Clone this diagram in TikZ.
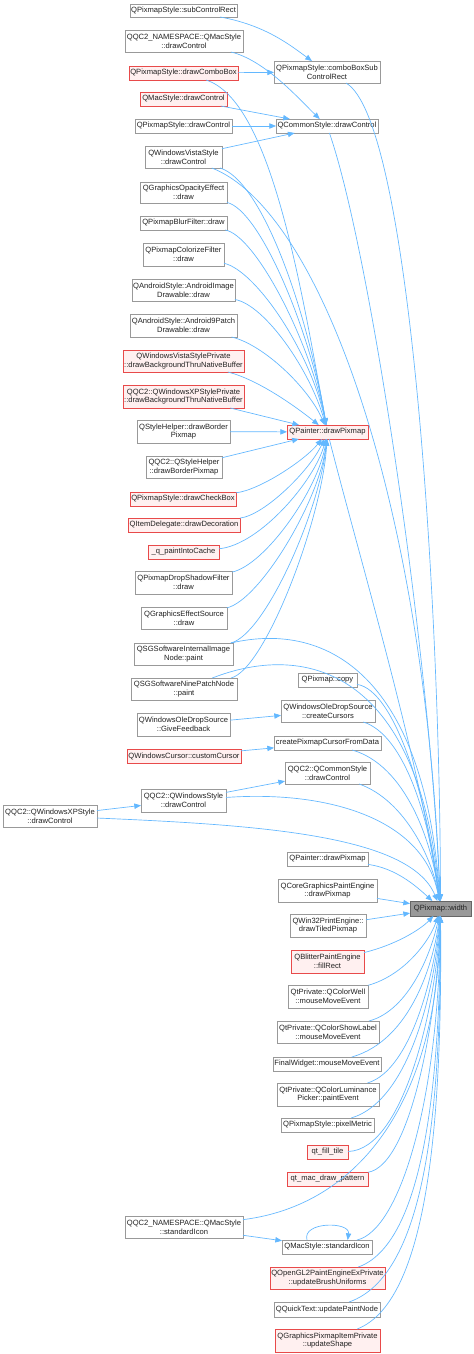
\documentclass[tikz,border=0pt]{standalone}
\usepackage{fontspec}
\setmainfont{Liberation Sans}
\usetikzlibrary{arrows.meta}
\definecolor{edgec}{HTML}{63B8FF}
\definecolor{boxc}{HTML}{999999}
\definecolor{redc}{HTML}{E84A4A}
\definecolor{redf}{HTML}{FFF0F0}
\definecolor{actf}{HTML}{999999}
\definecolor{actd}{HTML}{666666}
\definecolor{txt}{HTML}{222222}
\newcommand\gnd[7]{\node[#6,minimum width={(#4-#2)*0.75pt},minimum height={(#5-#3)*0.75pt}] (#1) at ({(#2+#4)/2},{(#3+#5)/2}) {#7};}
\begin{document}
\begin{tikzpicture}[x=0.75pt,y=-0.75pt,
  base/.style={rectangle,inner sep=0pt,outer sep=0pt,align=center,line width=0.75pt,
    font=\fontsize{5.7}{6.6}\selectfont,text=txt},
  plain/.style={base,draw=boxc,fill=white},
  redbox/.style={base,draw=redc,fill=redf},
  actbox/.style={base,draw=actd,fill=actf},
  e/.style={draw=edgec,line width=0.5pt,-{Triangle[length=5pt,width=4pt]}}]
\useasboundingbox (0,0) rectangle (474,1354);
\fill[white] (0,0) rectangle (474,1354);
\gnd{sub}{130}{4}{237}{17}{plain}{QPixmapStyle::subControlRect}
\gnd{qmsdc}{125}{30}{243}{52}{plain}{QQC2\_NAMESPACE::QMacStyle\\::drawControl}
\gnd{dcb}{129}{66}{238}{80}{redbox}{QPixmapStyle::drawComboBox}
\gnd{cbs}{274}{61}{380}{83}{plain}{QPixmapStyle::comboBoxSub\\ControlRect}
\gnd{mdc}{140}{92}{227}{106}{redbox}{QMacStyle::drawControl}
\gnd{pdc}{135}{119}{232}{133}{plain}{QPixmapStyle::drawControl}
\gnd{cdc}{276}{119}{378}{133}{plain}{QCommonStyle::drawControl}
\gnd{wvdc}{145}{146}{222}{168}{plain}{QWindowsVistaStyle\\::drawControl}
\gnd{goe}{140}{182}{227}{203}{plain}{QGraphicsOpacityEffect\\::draw}
\gnd{pbf}{140}{216}{227}{230}{plain}{QPixmapBlurFilter::draw}
\gnd{pcf}{143}{243}{224}{266}{plain}{QPixmapColorizeFilter\\::draw}
\gnd{aid}{132}{279}{235}{301}{plain}{QAndroidStyle::AndroidImage\\Drawable::draw}
\gnd{a9p}{130}{314}{237}{337}{plain}{QAndroidStyle::Android9Patch\\Drawable::draw}
\gnd{wvp}{123}{350}{244}{372}{redbox}{QWindowsVistaStylePrivate\\::drawBackgroundThruNativeBuffer}
\gnd{xpp}{123}{385}{244}{408}{redbox}{QQC2::QWindowsXPStylePrivate\\::drawBackgroundThruNativeBuffer}
\gnd{shb}{137}{420}{230}{443}{plain}{QStyleHelper::drawBorder\\Pixmap}
\gnd{pdp}{287}{425}{368}{439}{redbox}{QPainter::drawPixmap}
\gnd{qshb}{146}{456}{222}{478}{plain}{QQC2::QStyleHelper\\::drawBorderPixmap}
\gnd{dchk}{130}{492}{236}{506}{redbox}{QPixmapStyle::drawCheckBox}
\gnd{idd}{128}{518}{240}{532}{redbox}{QItemDelegate::drawDecoration}
\gnd{qpic}{148}{545}{219}{559}{redbox}{\_q\_paintIntoCache}
\gnd{pdsf}{135}{571}{232}{594}{plain}{QPixmapDropShadowFilter\\::draw}
\gnd{ges}{141}{607}{227}{629}{plain}{QGraphicsEffectSource\\::draw}
\gnd{sgii}{134}{643}{233}{665}{plain}{QSGSoftwareInternalImage\\Node::paint}
\gnd{sgnp}{131}{678}{237}{700}{plain}{QSGSoftwareNinePatchNode\\::paint}
\gnd{pcopy}{298}{673}{357}{687}{plain}{QPixmap::copy}
\gnd{occ}{281}{700}{375}{722}{plain}{QWindowsOleDropSource\\::createCursors}
\gnd{ogf}{137}{713}{230}{736}{plain}{QWindowsOleDropSource\\::GiveFeedback}
\gnd{cpcd}{274}{736}{381}{750}{plain}{createPixmapCursorFromData}
\gnd{wcc}{127}{749}{241}{763}{redbox}{QWindowsCursor::customCursor}
\gnd{qcdc}{285}{762}{370}{784}{plain}{QQC2::QCommonStyle\\::drawControl}
\gnd{qwdc}{141}{789}{226}{812}{plain}{QQC2::QWindowsStyle\\::drawControl}
\gnd{qxdc}{3}{805}{97}{827}{plain}{QQC2::QWindowsXPStyle\\::drawControl}
\gnd{pdp2}{287}{852}{368}{866}{plain}{QPainter::drawPixmap}
\gnd{cgpe}{278}{879}{377}{902}{plain}{QCoreGraphicsPaintEngine\\::drawPixmap}
\gnd{w32}{290}{914}{366}{937}{plain}{QWin32PrintEngine::\\drawTiledPixmap}
\gnd{bpe}{291}{950}{364}{973}{redbox}{QBlitterPaintEngine\\::fillRect}
\gnd{cw}{288}{985}{368}{1008}{plain}{QtPrivate::QColorWell\\::mouseMoveEvent}
\gnd{csl}{277}{1021}{379}{1043}{plain}{QtPrivate::QColorShowLabel\\::mouseMoveEvent}
\gnd{fw}{273}{1057}{381}{1071}{plain}{FinalWidget::mouseMoveEvent}
\gnd{clp}{277}{1083}{379}{1106}{plain}{QtPrivate::QColorLuminance\\Picker::paintEvent}
\gnd{ppm}{281}{1118}{374}{1132}{plain}{QPixmapStyle::pixelMetric}
\gnd{qft}{307}{1145}{348}{1159}{redbox}{qt\_fill\_tile}
\gnd{qmdp}{287}{1172}{368}{1186}{redbox}{qt\_mac\_draw\_pattern}
\gnd{qmsi}{125}{1216}{243}{1238}{plain}{QQC2\_NAMESPACE::QMacStyle\\::standardIcon}
\gnd{msi}{282}{1240}{372}{1254}{plain}{QMacStyle::standardIcon}
\gnd{ogl}{270}{1267}{385}{1289}{redbox}{QOpenGL2PaintEngineExPrivate\\::updateBrushUniforms}
\gnd{qqt}{274}{1302}{380}{1317}{plain}{QQuickText::updatePaintNode}
\gnd{gpi}{275}{1329}{380}{1352}{redbox}{QGraphicsPixmapItemPrivate\\::updateShape}
\gnd{pw}{410}{901}{471}{916}{actbox}{QPixmap::width}
% edges top
\draw[e] (sub) .. controls (265,25) and (290,45) .. (cbs);
\draw[e] (dcb) -- (cbs);
\draw[e] (qmsdc) .. controls (265,60) and (300,100) .. (cdc);
\draw[e] (mdc) -- (cdc);
\draw[e] (pdc) -- (cdc);
\draw[e] (wvdc) -- (cdc);
\draw[e] (cbs) .. controls (410,120) and (440,600) .. (pw);
\draw[e] (cdc) .. controls (370,250) and (430,650) .. (pw);
\draw[e] (dcb) .. controls (270,100) and (300,280) .. (pdp);
\draw[e] (wvdc) .. controls (260,180) and (305,300) .. (pdp);
\draw[e] (wvdc) .. controls (320,210) and (425,500) .. (pw);
% into QPainter::drawPixmap
\draw[e] (goe) .. controls (260,210) and (310,330) .. (pdp);
\draw[e] (pbf) .. controls (255,235) and (310,340) .. (pdp);
\draw[e] (pcf) .. controls (255,270) and (310,350) .. (pdp);
\draw[e] (aid) .. controls (265,305) and (310,370) .. (pdp);
\draw[e] (a9p) .. controls (265,345) and (310,390) .. (pdp);
\draw[e] (wvp) .. controls (260,380) and (300,410) .. (pdp);
\draw[e] (xpp) -- (pdp);
\draw[e] (shb) -- (pdp);
\draw[e] (qshb) -- (pdp);
\draw[e] (dchk) .. controls (260,490) and (305,460) .. (pdp);
\draw[e] (idd) .. controls (265,515) and (310,470) .. (pdp);
\draw[e] (qpic) .. controls (260,545) and (315,480) .. (pdp);
\draw[e] (pdsf) .. controls (265,565) and (318,490) .. (pdp);
\draw[e] (ges) .. controls (260,600) and (320,500) .. (pdp);
\draw[e] (sgii) .. controls (265,635) and (320,510) .. (pdp);
\draw[e] (sgnp) .. controls (265,670) and (322,520) .. (pdp);
% into QPixmap::width
\draw[e] (pdp) .. controls (360,560) and (420,760) .. (pw);
\draw[e] (sgii) .. controls (330,620) and (425,680) .. (pw);
\draw[e] (sgnp) .. controls (310,640) and (420,675) .. (pw);
\draw[e] (pcopy) .. controls (395,690) and (428,800) .. (pw);
\draw[e] (occ) .. controls (405,735) and (430,820) .. (pw);
\draw[e] (cpcd) .. controls (405,765) and (432,840) .. (pw);
\draw[e] (qcdc) .. controls (405,800) and (433,860) .. (pw);
\draw[e] (qwdc) .. controls (330,790) and (425,820) .. (pw);
\draw[e] (qxdc) .. controls (260,825) and (410,835) .. (pw);
\draw[e] (qxdc) -- (qwdc);
\draw[e] (qwdc) -- (qcdc);
\draw[e] (ogf) -- (occ);
\draw[e] (wcc) -- (cpcd);
\draw[e] (pdp2) .. controls (395,868) and (415,885) .. (pw);
\draw[e] (cgpe) -- (pw);
\draw[e] (w32) -- (pw);
\draw[e] (bpe) .. controls (395,945) and (420,930) .. (pw);
\draw[e] (cw) .. controls (405,975) and (430,940) .. (pw);
\draw[e] (csl) .. controls (410,1010) and (432,950) .. (pw);
\draw[e] (fw) .. controls (412,1040) and (434,960) .. (pw);
\draw[e] (clp) .. controls (412,1070) and (435,970) .. (pw);
\draw[e] (ppm) .. controls (412,1100) and (436,980) .. (pw);
\draw[e] (qft) .. controls (405,1150) and (437,1000) .. (pw);
\draw[e] (qmdp) .. controls (412,1165) and (438,1010) .. (pw);
\draw[e] (qmsi) .. controls (360,1205) and (438,1100) .. (pw);
\draw[e] (qmsi) -- (msi);
\draw[e] (msi) .. controls (400,1230) and (439,1100) .. (pw);
\draw[e] (ogl) .. controls (420,1245) and (440,1100) .. (pw);
\draw[e] (qqt) .. controls (428,1275) and (441,1100) .. (pw);
\draw[e] (gpi) .. controls (432,1300) and (442,1100) .. (pw);
\draw[e] ([xshift=-15pt]msi.north) .. controls +(-4pt,14pt) and +(2pt,14pt) .. ([xshift=15.5pt]msi.north);
\end{tikzpicture}
\end{document}
